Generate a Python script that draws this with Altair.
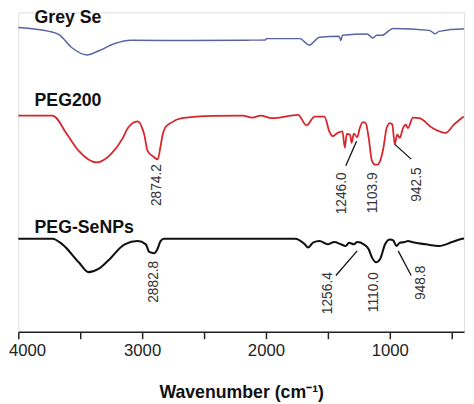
import altair as alt
import pandas as pd

# ---- spectra (wavenumber, offset transmittance in arbitrary units) ----
grey_w = [4000, 3750, 3671, 3567, 3446, 3353, 3221, 3091, 2615, 2163, 2004, 1996, 1726, 1652, 1567,
          1409, 1395, 1382, 1184, 1136, 1105, 1065, 972, 681, 633, 601, 416, 400]
grey_v = [309.7, 305.7, 302.3, 289, 281.7, 285.7, 293.3, 296.7, 296.3, 296.7, 297, 298.3, 298.3, 291.7, 299.7,
          300.7, 296.3, 301.7, 303, 299, 301.7, 301.7, 308.7, 306.7, 303.3, 305.7, 308, 308]

peg_w = [4000, 3724, 3607, 3512, 3367, 3250, 3155, 3115, 3036, 2996, 2983, 2956, 2917, 2874, 2853, 2837,
         2813, 2771, 2679, 2427, 2189, 2109, 2044, 1951, 1740, 1673, 1607, 1528, 1488, 1462, 1422, 1382,
         1363, 1347, 1321, 1308, 1290, 1263, 1242, 1216, 1194, 1170, 1144, 1117, 1099, 1083, 1051, 1025,
         998, 980, 959, 940, 919, 893, 871, 853, 813, 760, 655, 549, 482, 403]
peg_v = [220, 220, 201, 184, 172.3, 181, 197.3, 207.3, 214, 206, 200.7, 184, 179, 175.5, 187.3, 199,
         208, 212.3, 217.3, 219.7, 220, 218, 220, 217.3, 220.7, 210, 219, 219, 204, 199, 202.3, 204,
         187.3, 201.3, 200.7, 192.3, 201.7, 198, 207.3, 213.3, 212.3, 197.3, 174, 170, 170, 172.3, 187.3, 207.3,
         212.3, 211, 190.7, 200.7, 197.3, 207.3, 210.7, 207.3, 218, 217.3, 207.3, 202.3, 210.7, 219]

se_w = [4000, 3724, 3644, 3512, 3433, 3353, 3274, 3141, 3036, 2970, 2943, 2903, 2877, 2851, 2824, 1766,
        1686, 1660, 1620, 1567, 1501, 1448, 1395, 1355, 1329, 1290, 1263, 1210, 1170, 1144, 1110, 1078,
        1038, 998, 972, 946, 919, 879, 853, 813, 708, 601, 496, 416, 400]
se_v = [94.7, 94.7, 89, 70.7, 60.7, 64, 72.5, 89, 92.3, 89, 81.3, 80, 84, 92.3, 94.7, 94.7,
        89, 85.7, 90.7, 92.3, 89, 91.3, 89, 87.3, 90.7, 89, 91.3, 89, 84, 75.7, 70.7, 74,
        89, 94, 93, 87.3, 90.7, 91.3, 92.3, 91, 89, 87.3, 91.3, 94.7, 95]

series_names = ["Grey Se", "PEG200", "PEG-SeNPs"]
series_colors = ["#5763a3", "#d8252b", "#111111"]
series_widths = [1.5, 2.1, 1.5]

# series name labels (anchor wavenumber, value)
name_w = [3869, 3869, 3869]
name_v = [314, 230, 100.7]

# peak annotations
peak_labels = ["2874.2", "1246.0", "1103.9", "942.5", "2882.8", "1256.4", "1110.0", "948.8"]
peak_w = [2880, 1387, 1131, 782, 2903, 1502, 1123, 748]
peak_v = [170.7, 162.3, 162.3, 167.3, 72.3, 60.7, 60.7, 67.3]

# leader lines
lead_w1 = [1268, 959, 1263, 932]
lead_v1 = [194, 190.7, 82.3, 82.3]
lead_w2 = [1355, 827, 1435, 827]
lead_v2 = [169, 175.7, 57.3, 57.3]

tick_values = [4000, 3500, 3000, 2500, 2000, 1500, 1000, 500]

rows = []
for name, ws, vs in zip(series_names, [grey_w, peg_w, se_w], [grey_v, peg_v, se_v]):
    for i, (w, v) in enumerate(zip(ws, vs)):
        rows.append({"series": name, "w": w, "v": v, "i": i})
spec_df = pd.DataFrame(rows)

names_df = pd.DataFrame({"label": series_names, "w": name_w, "v": name_v})
peaks_df = pd.DataFrame({"label": peak_labels, "w": peak_w, "v": peak_v})
lead_df = pd.DataFrame({"w1": lead_w1, "v1": lead_v1, "w2": lead_w2, "v2": lead_v2})

FONT = "Liberation Sans, Arial, Helvetica, sans-serif"

x_scale = alt.Scale(domain=[400, 4000], reverse=True, nice=False, zero=False)
y_scale = alt.Scale(domain=[0, 325], nice=False, zero=False)

x_axis = alt.Axis(
    values=tick_values,
    labelExpr="datum.value % 1000 == 0 ? datum.label : ''",
    format="d",
    title="Wavenumber (cm\u207b\u00b9)",
    grid=False,
    tickSize=7,
    tickWidth=1.5,
    tickColor="#222",
    domainColor="#222",
    domainWidth=1.5,
    labelFontSize=17,
    labelFont=FONT,
    labelColor="#222",
    labelPadding=4,
    labelFlush=True,
    labelFlushOffset=10,
    titleFontSize=18,
    titleFont=FONT,
    titleFontWeight="bold",
    titleColor="#111",
    titlePadding=26,
)

lines = alt.Chart(spec_df).mark_line(interpolate="monotone").encode(
    x=alt.X("w:Q", scale=x_scale, axis=x_axis),
    y=alt.Y("v:Q", scale=y_scale, axis=None),
    color=alt.Color("series:N", scale=alt.Scale(domain=series_names, range=series_colors), legend=None),
    strokeWidth=alt.StrokeWidth("series:N", scale=alt.Scale(domain=series_names, range=series_widths), legend=None),
    order="i:Q",
)

names = alt.Chart(names_df).mark_text(
    align="left", baseline="alphabetic", font=FONT, fontSize=18, fontWeight="bold", color="#111"
).encode(x=alt.X("w:Q", scale=x_scale), y=alt.Y("v:Q", scale=y_scale), text="label:N")

peaks = alt.Chart(peaks_df).mark_text(
    angle=270, align="right", baseline="middle", font=FONT, fontSize=14, color="#333"
).encode(x=alt.X("w:Q", scale=x_scale), y=alt.Y("v:Q", scale=y_scale), text="label:N")

leads = alt.Chart(lead_df).mark_rule(color="#111", strokeWidth=1.3).encode(
    x=alt.X("w1:Q", scale=x_scale), y=alt.Y("v1:Q", scale=y_scale),
    x2="w2:Q", y2="v2:Q",
)

chart = alt.layer(lines, leads, peaks, names).properties(
    width=453.5,
    height=325,
    autosize=alt.AutoSizeParams(type="none"),
    padding={"left": 10.5, "top": 1, "right": 2, "bottom": 70},
).configure_view(stroke="#333", strokeWidth=1.6).configure(background="white")

chart.save("out.html", embed_options={"renderer": "svg", "actions": False})
